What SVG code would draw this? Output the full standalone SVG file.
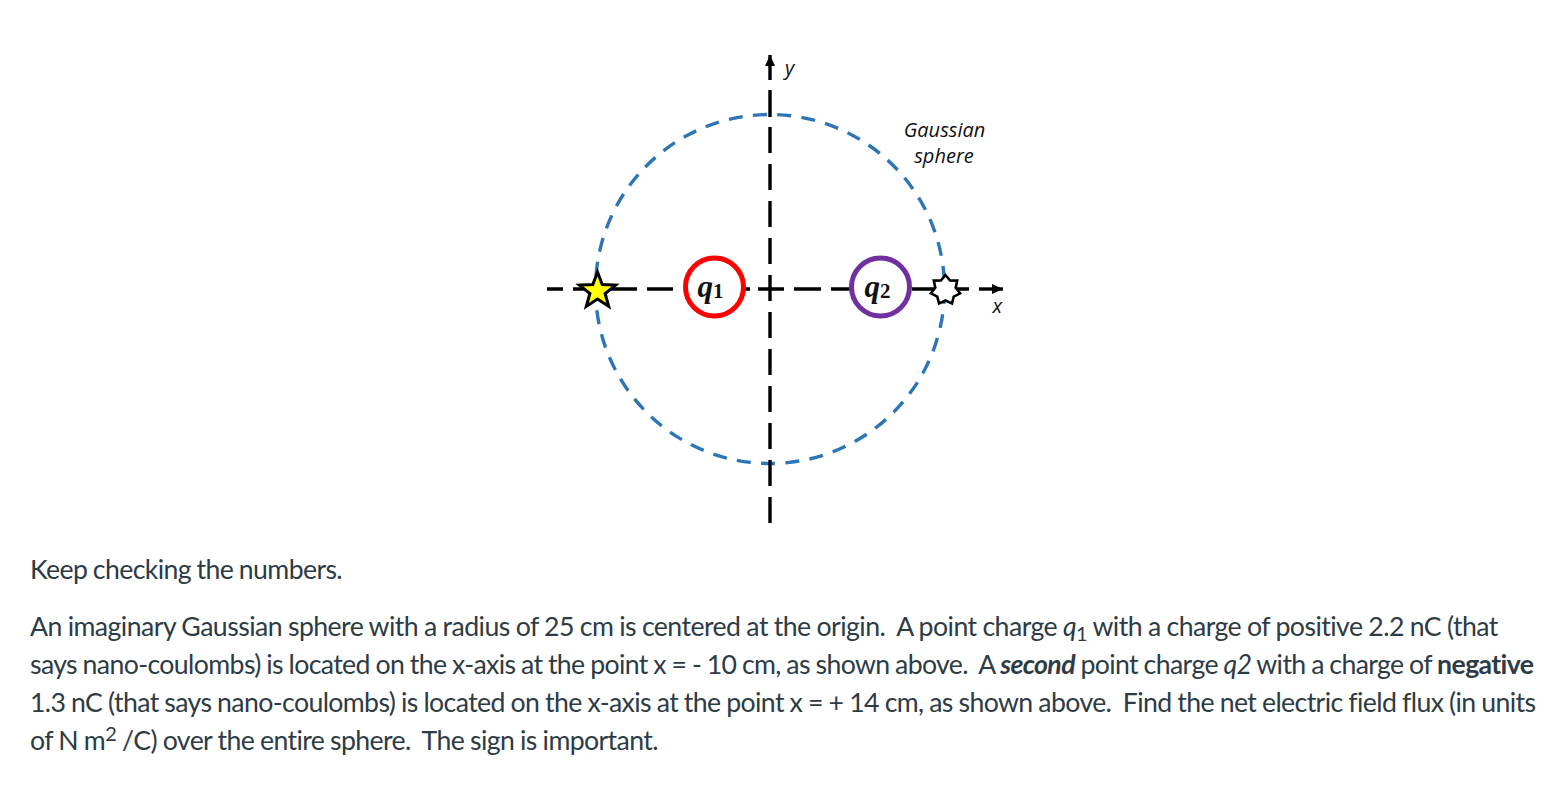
<svg xmlns="http://www.w3.org/2000/svg" width="1564" height="793" viewBox="0 0 1564 793">
<style>
.axis{stroke:#000;stroke-width:3.4;fill:none}
.body{font-family:Lato,"Liberation Sans",sans-serif;font-size:26.67px;fill:#2d3b45;letter-spacing:-.62px}
.lab{font-family:"Open Sans","Liberation Sans",sans-serif;font-style:italic;font-size:20px;fill:#111}
.q{font-family:"Liberation Serif",serif;font-style:italic;font-weight:bold;font-size:31px;fill:#111}
.sub{font-style:normal;font-size:21px}
</style>
<defs><marker id="ah" markerUnits="userSpaceOnUse" markerWidth="13" markerHeight="12" refX="11" refY="5.5" orient="auto"><path d="M0 0.5L11 5.5L0 10.5Z" fill="#000"/></marker></defs>
<rect width="1564" height="793" fill="#fff"/>
<g id="sphere"><circle cx="770" cy="289" r="174.5" fill="none" stroke="#2e75b6" stroke-width="3.4" stroke-dasharray="14 10.36" stroke-dashoffset="-1"/></g>
<g id="connectors">
<path class="axis" d="M547 289H563M573 289H637M647 289H673M721 289H750M758 289H784M794 289H821M831 289H858M912 289H969"/>
<line class="axis" x1="979" y1="289" x2="1003" y2="289" marker-end="url(#ah)"/>
<path class="axis" d="M770 90V117M770 127V153M770 164V190M770 201V227M770 238V264M770 275V301M770 312V338M770 349V375M770 386V412M770 423V449M770 460V486M770 497V523"/>
<line class="axis" x1="770" y1="80" x2="770" y2="55" marker-end="url(#ah)"/>
</g>
<g id="q1"><circle cx="714.5" cy="287" r="29" fill="#fff" stroke="#ff0000" stroke-width="5"/><text class="q" x="697.5" y="297">q<tspan class="sub" dy="1">1</tspan></text></g>
<g id="q2"><circle cx="880.5" cy="287" r="29" fill="#fff" stroke="#7030a0" stroke-width="5"/><text class="q" x="864.5" y="297">q<tspan class="sub" dy="1">2</tspan></text></g>
<g id="star-yellow"><polygon points="597.5,272 602.2,284.5 615.6,285.1 605.1,293.5 608.7,306.4 597.5,299 586.3,306.4 589.9,293.5 579.4,285.1 592.8,284.5" fill="#ffff00" stroke="#000" stroke-width="3"/></g>
<g id="star-white"><polygon points="945.5,275 950.1,280.5 957.2,280.6 955.7,287.7 960.1,293.3 953.7,296.6 952,303.5 945.5,300.5 939,303.5 937.3,296.6 930.9,293.3 935.3,287.7 933.8,280.6 940.9,280.5" fill="#fff" stroke="#000" stroke-width="2.6"/></g>
<g id="label-y"><text class="lab" x="785" y="75">y</text></g>
<g id="label-x"><text class="lab" x="992.5" y="313">x</text></g>
<g id="label-gaussian"><text class="lab" x="944.5" y="137" text-anchor="middle">Gaussian</text><text class="lab" x="944" y="163" text-anchor="middle">sphere</text></g>
<g id="text">
<text class="body" x="30" y="579" style="word-spacing:-.6px">Keep checking the numbers.</text>
<text class="body" x="30" y="636" xml:space="preserve" style="letter-spacing:-.55px;word-spacing:-.4px">An imaginary Gaussian sphere with a radius of 25 cm is centered at the origin.  A point charge <tspan font-style="italic">q</tspan><tspan font-size="20" dy="5">1</tspan><tspan dy="-5"> with a charge of positive 2.2 nC (that</tspan></text>
<text class="body" x="30" y="674" xml:space="preserve" style="word-spacing:-.65px">says nano-coulombs) is located on the x-axis at the point x = - 10 cm, as shown above.  A <tspan font-style="italic" font-weight="bold">second</tspan> point charge <tspan font-style="italic">q2</tspan> with a charge of <tspan font-weight="bold">negative</tspan></text>
<text class="body" x="30" y="712" xml:space="preserve" style="word-spacing:-.45px">1.3 nC (that says nano-coulombs) is located on the x-axis at the point x = + 14 cm, as shown above.  Find the net electric field flux (in units</text>
<text class="body" x="30" y="750" xml:space="preserve" style="word-spacing:-.35px">of N m<tspan font-size="20" dy="-9">2</tspan><tspan dy="9"> /C) over the entire sphere.  The sign is important.</tspan></text>
</g>
</svg>
